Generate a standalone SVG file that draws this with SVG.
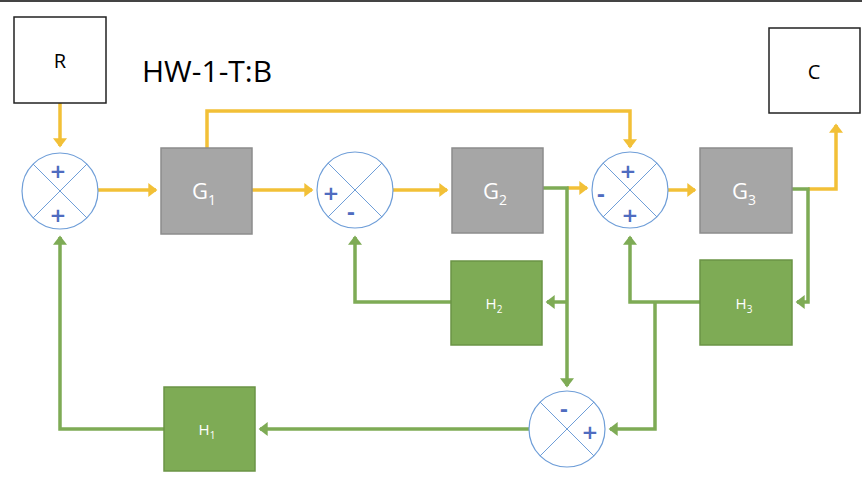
<svg xmlns="http://www.w3.org/2000/svg" width="862" height="478" viewBox="0 0 862 478">
<defs>
<marker id="ay" markerWidth="4" markerHeight="4" refX="2.2" refY="2" orient="auto" markerUnits="strokeWidth"><path d="M0,0 L2.6,2 L0,4 Z" fill="#F2C037"/></marker>
<marker id="ag" markerWidth="4" markerHeight="4" refX="2.2" refY="2" orient="auto" markerUnits="strokeWidth"><path d="M0,0 L2.6,2 L0,4 Z" fill="#7EAB55"/></marker>
</defs>
<style>
.y{fill:none;stroke:#F2C037;stroke-width:3.5}
.g{fill:none;stroke:#7EAB55;stroke-width:3.5}
.sum circle{fill:#fff;stroke:#6F9ED8;stroke-width:1.2}
.sum line{stroke:#6F9ED8;stroke-width:1}
.sg{font-family:"DejaVu Sans",sans-serif;font-weight:bold;fill:#4F6CC0;font-size:20px;text-anchor:middle}
.gb rect{fill:#A6A6A6;stroke:#8C8C8C;stroke-width:1.5}
.hb rect{fill:#7EAB55;stroke:#6B9446;stroke-width:1.5}
.lbl{font-family:"Open Sans",sans-serif;fill:#fff;text-anchor:middle}
.wb rect{fill:#fff;stroke:#222;stroke-width:1.5}
.bt{font-family:"Open Sans",sans-serif;fill:#000;font-size:20px;text-anchor:middle}
</style>
<rect width="862" height="478" fill="#fff"/>
<rect width="862" height="2" fill="#444"/>
<text x="142" y="82" font-family="Open Sans, sans-serif" font-size="30" fill="#000">HW-1-T:B</text>
<g id="connectors">
<polyline class="y" points="60,103 60,146" marker-end="url(#ay)"/>
<polyline class="y" points="98,190 156,190" marker-end="url(#ay)"/>
<polyline class="y" points="252,190 312,190" marker-end="url(#ay)"/>
<polyline class="y" points="207,148 207,111 630,111 630,147" marker-end="url(#ay)"/>
<polyline class="y" points="393,190 447,190" marker-end="url(#ay)"/>
<polyline class="y" points="567,188 587,188" marker-end="url(#ay)"/>
<polyline class="y" points="668,190 695,190" marker-end="url(#ay)"/>
<polyline class="y" points="808,189 836,189 836,125" marker-end="url(#ay)"/>
<polyline class="g" points="543,188 567,188 567,386" marker-end="url(#ag)"/>
<polyline class="g" points="567,302 547,302" marker-end="url(#ag)"/>
<polyline class="g" points="451,302 355,302 355,237" marker-end="url(#ag)"/>
<polyline class="g" points="792,189 808,189 808,302 797,302" marker-end="url(#ag)"/>
<polyline class="g" points="700,302 630,302 630,237" marker-end="url(#ag)"/>
<polyline class="g" points="655,302 655,429 610,429" marker-end="url(#ag)"/>
<polyline class="g" points="529,429 260,429" marker-end="url(#ag)"/>
<polyline class="g" points="164,429 60,429 60,237" marker-end="url(#ag)"/>
</g>
<g id="R" class="wb"><rect x="14" y="17" width="92" height="86"/><text class="bt" x="60" y="68">R</text></g>
<g id="C" class="wb"><rect x="769" y="28" width="91" height="85"/><text class="bt" x="814" y="79">C</text></g>
<g id="sum1" class="sum"><circle cx="60" cy="191" r="38"/><line x1="33" y1="164" x2="87" y2="218"/><line x1="87" y1="164" x2="33" y2="218"/><text class="sg" x="58" y="178">+</text><text class="sg" x="58" y="222">+</text></g>
<g id="sum2" class="sum"><circle cx="355" cy="190" r="38"/><line x1="328" y1="163" x2="382" y2="217"/><line x1="382" y1="163" x2="328" y2="217"/><text class="sg" x="331" y="200">+</text><text class="sg" x="351" y="219">-</text></g>
<g id="sum3" class="sum"><circle cx="630" cy="190" r="38"/><line x1="603" y1="163" x2="657" y2="217"/><line x1="657" y1="163" x2="603" y2="217"/><text class="sg" x="628" y="178">+</text><text class="sg" x="601" y="201">-</text><text class="sg" x="630" y="222">+</text></g>
<g id="sum4" class="sum"><circle cx="567" cy="429" r="38"/><line x1="540" y1="402" x2="594" y2="456"/><line x1="594" y1="402" x2="540" y2="456"/><text class="sg" x="564" y="416">-</text><text class="sg" x="590" y="439">+</text></g>
<g id="G1" class="gb"><rect x="161" y="148" width="91" height="86"/><text class="lbl" x="204" y="199" font-size="22">G<tspan font-size="14" dy="6">1</tspan></text></g>
<g id="G2" class="gb"><rect x="452" y="148" width="91" height="85"/><text class="lbl" x="495" y="199" font-size="22">G<tspan font-size="14" dy="6">2</tspan></text></g>
<g id="G3" class="gb"><rect x="700" y="148" width="92" height="85"/><text class="lbl" x="744" y="199" font-size="22">G<tspan font-size="14" dy="6">3</tspan></text></g>
<g id="H1" class="hb"><rect x="164" y="387" width="91" height="84"/><text class="lbl" x="207" y="435" font-size="15">H<tspan font-size="10" dy="4">1</tspan></text></g>
<g id="H2" class="hb"><rect x="451" y="261" width="91" height="84"/><text class="lbl" x="494" y="309" font-size="15">H<tspan font-size="10" dy="4">2</tspan></text></g>
<g id="H3" class="hb"><rect x="700" y="260" width="92" height="85"/><text class="lbl" x="744" y="309" font-size="15">H<tspan font-size="10" dy="4">3</tspan></text></g>
</svg>
